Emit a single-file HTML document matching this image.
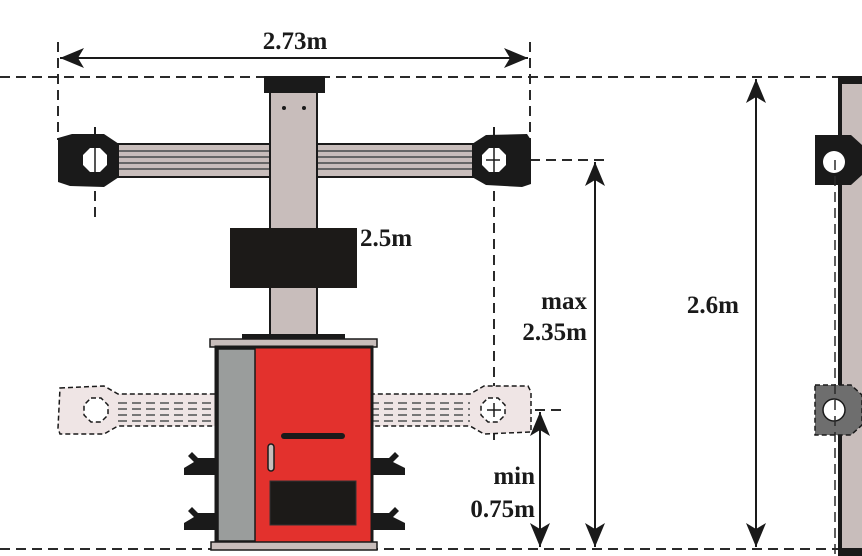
<!DOCTYPE html>
<html><head><meta charset="utf-8"><style>
html,body{margin:0;padding:0;background:#fff;}
svg{display:block;}
text{font-family:"Liberation Serif",serif;font-weight:bold;fill:#1a1a1a;}
</style></head><body>
<svg width="862" height="556" viewBox="0 0 862 556" xmlns="http://www.w3.org/2000/svg">
<defs>
<marker id="ah" viewBox="0 0 24 20" refX="24" refY="10" markerWidth="24" markerHeight="20" markerUnits="userSpaceOnUse" orient="auto-start-reverse">
<path d="M0,0 L24,10 L0,20 L6,10 Z" fill="#1a1a1a"/>
</marker>
</defs>
<g stroke="#2a2a2a" stroke-width="2" stroke-dasharray="10,6" fill="none">
<line x1="0" y1="77" x2="838" y2="77"/>
<line x1="0" y1="549" x2="838" y2="549"/>
<line x1="58" y1="42" x2="58" y2="140"/>
<line x1="530" y1="42" x2="530" y2="160"/>
<line x1="530" y1="160" x2="608" y2="160"/>
<line x1="95" y1="127" x2="95" y2="222"/>
<line x1="494" y1="127" x2="494" y2="440"/>
<line x1="455" y1="410" x2="565" y2="410"/>
</g>
<g stroke="#1a1a1a" stroke-width="2" fill="none">
<line x1="60" y1="58" x2="528" y2="58" marker-start="url(#ah)" marker-end="url(#ah)"/>
<line x1="595" y1="162" x2="595" y2="547" marker-start="url(#ah)" marker-end="url(#ah)"/>
<line x1="756" y1="79" x2="756" y2="547" marker-start="url(#ah)" marker-end="url(#ah)"/>
<line x1="540" y1="412" x2="540" y2="547" marker-start="url(#ah)" marker-end="url(#ah)"/>
</g>
<text x="295" y="49" font-size="25" text-anchor="middle">2.73m</text>
<text x="360" y="246" font-size="25">2.5m</text>
<text x="587" y="309" font-size="25" text-anchor="end">max</text>
<text x="587" y="340" font-size="25" text-anchor="end">2.35m</text>
<text x="739" y="313" font-size="25" text-anchor="end">2.6m</text>
<text x="535" y="484" font-size="25" text-anchor="end">min</text>
<text x="535" y="517" font-size="25" text-anchor="end">0.75m</text>

<g fill="#efe5e5" stroke="#1a1a1a" stroke-width="1.5" stroke-dasharray="5,3">
<path d="M60,388 L104,386 L118,394 L470,394 L484,386 L528,386 L531,392 L531,432 L484,434 L470,426 L118,426 L104,434 L60,434 L58,428 Z"/>
<polygon points="91,398 101,398 108,405 108,415 101,422 91,422 84,415 84,405" fill="#fff"/>
<polygon points="488,398 498,398 505,405 505,415 498,422 488,422 481,415 481,405" fill="#fff"/>
</g>
<g stroke="#777" stroke-width="2" stroke-dasharray="9,5">
<line x1="118" y1="403" x2="470" y2="403"/><line x1="118" y1="409" x2="470" y2="409"/>
<line x1="118" y1="415" x2="470" y2="415"/><line x1="118" y1="421" x2="470" y2="421"/>
</g>
<g stroke="#1a1a1a" stroke-width="1.5"><line x1="494" y1="403" x2="494" y2="417"/><line x1="487" y1="410" x2="501" y2="410"/></g>

<rect x="116" y="144" width="358" height="33" fill="#c8bdbb" stroke="#1a1a1a" stroke-width="2"/>
<g stroke="#666" stroke-width="2">
<line x1="117" y1="151" x2="473" y2="151"/><line x1="117" y1="157" x2="473" y2="157"/>
<line x1="117" y1="163" x2="473" y2="163"/><line x1="117" y1="169" x2="473" y2="169"/>
</g>
<rect x="270" y="92" width="47" height="245" fill="#c8bdbb" stroke="#1a1a1a" stroke-width="2"/>
<rect x="264" y="76" width="61" height="17" fill="#1a1a1a"/>
<circle cx="284" cy="108" r="2" fill="#1a1a1a"/><circle cx="304" cy="108" r="2" fill="#1a1a1a"/>
<path d="M58,138 L72,134 L104,134 L119,144 L119,177 L104,187 L70,186 L58,182 Z" fill="#1a1a1a"/>
<path d="M472,144 L486,135 L527,134 L531,140 L531,184 L522,187 L486,185 L472,177 Z" fill="#1a1a1a"/>
<polygon points="90,148 100,148 107,155 107,165 100,172 90,172 83,165 83,155" fill="#fff"/>
<polygon points="489,148 499,148 506,155 506,165 499,172 489,172 482,165 482,155" fill="#fff"/>
<g stroke="#1a1a1a" stroke-width="1.5"><line x1="95" y1="127" x2="95" y2="175"/><line x1="494" y1="127" x2="494" y2="175"/><line x1="486" y1="160" x2="500" y2="160"/></g>
<rect x="230" y="228" width="127" height="60" fill="#1c1a18"/>

<g fill="#1a1a1a">
<path d="M216,458 L198,458 L192,452 L188,456 L194,462 L184,468 L184,475 L216,475 Z"/>
<path d="M216,513 L198,513 L192,507 L188,511 L194,517 L184,523 L184,530 L216,530 Z"/>
<path d="M371,458 L389,458 L395,452 L399,456 L393,462 L405,468 L405,475 L371,475 Z"/>
<path d="M371,513 L389,513 L395,507 L399,511 L393,517 L405,523 L405,530 L371,530 Z"/>
</g>
<rect x="242" y="334" width="103" height="6" fill="#1a1a1a"/>
<rect x="210" y="339" width="167" height="8" fill="#c8bdbb" stroke="#1a1a1a" stroke-width="1.5"/>
<rect x="216" y="347" width="156" height="196" fill="#e3312d" stroke="#1a1a1a" stroke-width="3"/>
<rect x="218" y="349" width="37" height="192" fill="#9a9d9c" stroke="#1a1a1a" stroke-width="1.5"/>
<rect x="281" y="433" width="64" height="6" rx="3" fill="#1a1a1a"/>
<rect x="268" y="444" width="6" height="27" rx="3" fill="#c8bdbb" stroke="#1a1a1a" stroke-width="1.5"/>
<rect x="270" y="481" width="86" height="44" fill="#1c1a18" stroke="#333" stroke-width="1"/>
<rect x="211" y="542" width="166" height="8" fill="#c8bdbb" stroke="#1a1a1a" stroke-width="1.5"/>

<rect x="840" y="76" width="22" height="480" fill="#c8bdbb"/>
<rect x="838" y="76" width="4" height="480" fill="#1a1a1a"/>
<rect x="838" y="76" width="24" height="8" fill="#1a1a1a"/>
<rect x="838" y="548" width="24" height="8" fill="#1a1a1a"/>
<path d="M815,135 L851,135 L862,145 L862,175 L851,185 L815,185 Z" fill="#1a1a1a"/>
<circle cx="834" cy="162" r="11" fill="#fff"/>
<path d="M815,385 L851,385 L862,395 L862,425 L851,435 L815,435 Z" fill="#6e6e6e" stroke="#1a1a1a" stroke-width="1.5" stroke-dasharray="5,3"/>
<circle cx="834" cy="410" r="11" fill="#fff" stroke="#1a1a1a" stroke-width="1.5"/>
<line x1="835" y1="160" x2="835" y2="556" stroke="#2a2a2a" stroke-width="1.5" stroke-dasharray="10,6"/>
</svg>
</body></html>
